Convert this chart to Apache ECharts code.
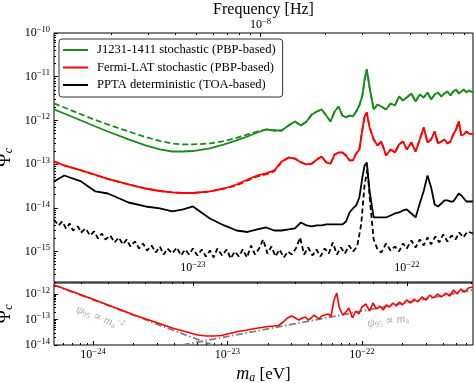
<!DOCTYPE html>
<html><head><meta charset="utf-8">
<script src="https://cdn.jsdelivr.net/npm/echarts@6/dist/echarts.min.js"></script>
<style>html,body{margin:0;padding:0;background:#fff}#c{width:474px;height:383px}</style>
</head><body><div id="c"></div>
<script>
// ---------- data (m_a in eV, Psi_c dimensionless) ----------
const maMain = [2.24e-24,2.5e-24,3e-24,3.5e-24,4e-24,5e-24,6e-24,7e-24,8e-24,9e-24,
 1e-23,1.2e-23,1.4e-23,1.6e-23,1.8e-23,2e-23,2.2e-23,2.4e-23,2.6e-23,2.8e-23,
 3e-23,3.2e-23,3.4e-23,3.6e-23,3.8e-23,4e-23,4.2e-23,4.4e-23,4.6e-23,4.8e-23,
 5e-23,5.2e-23,5.4e-23,5.6e-23,5.8e-23,6e-23,6.2e-23,6.35e-23,6.5e-23,6.7e-23,
 7e-23,7.3e-23,7.6e-23,8e-23,8.4e-23,8.8e-23,9.2e-23,9.6e-23,1e-22,1.05e-22,
 1.1e-22,1.15e-22,1.2e-22,1.25e-22,1.3e-22,1.35e-22,1.4e-22,1.45e-22,1.5e-22,1.55e-22,
 1.6e-22,1.65e-22,1.7e-22,1.75e-22,1.8e-22,1.85e-22,1.9e-22,1.95e-22,2.04e-22];

const j1231Solid = [1.78e-12,1.44e-12,9.95e-13,7.25e-13,5.57e-13,3.66e-13,2.67e-13,2.16e-13,1.94e-13,1.94e-13,
 1.99e-13,2.28e-13,2.81e-13,3.47e-13,4.28e-13,5.28e-13,6.19e-13,5.87e-13,5.87e-13,7.64e-13,
 9.44e-13,7.64e-13,9.44e-13,1.37e-12,1.60e-12,1.78e-12,1.29e-12,9.44e-13,1.60e-12,2.08e-12,
 1.29e-12,1.17e-12,1.29e-12,1.23e-12,1.60e-12,2.19e-12,3.71e-12,8.63e-12,1.46e-11,5.66e-12,
 1.78e-12,2.31e-12,2.08e-12,1.78e-12,2.44e-12,2.19e-12,3.52e-12,2.85e-12,3.34e-12,4.13e-12,
 2.71e-12,3.92e-12,3.34e-12,4.35e-12,3.01e-12,3.92e-12,4.35e-12,3.52e-12,4.13e-12,4.58e-12,
 3.71e-12,4.58e-12,5.09e-12,4.13e-12,4.58e-12,5.09e-12,4.35e-12,4.83e-12,4.35e-12];

const j1231Dashed = [2.44e-12,1.97e-12,1.37e-12,1.02e-12,8.06e-13,5.57e-13,4.17e-13,3.38e-13,2.96e-13,2.81e-13,
 2.81e-13,2.96e-13,3.38e-13,3.96e-13,4.76e-13,5.57e-13,6.19e-13,5.87e-13,5.87e-13,7.64e-13,
 9.44e-13,7.64e-13,9.44e-13,1.37e-12,1.60e-12,1.78e-12,1.29e-12,9.44e-13,1.60e-12,2.08e-12,
 1.29e-12,1.17e-12,1.29e-12,1.23e-12,1.60e-12,2.19e-12,3.71e-12,8.63e-12,1.46e-11,5.66e-12,
 1.78e-12,2.31e-12,2.08e-12,1.78e-12,2.44e-12,2.19e-12,3.52e-12,2.85e-12,3.34e-12,4.13e-12,
 2.71e-12,3.92e-12,3.34e-12,4.35e-12,3.01e-12,3.92e-12,4.35e-12,3.52e-12,4.13e-12,4.58e-12,
 3.71e-12,4.58e-12,5.09e-12,4.13e-12,4.58e-12,5.09e-12,4.35e-12,4.83e-12,4.35e-12];

const fermiSolid = [1.15e-13,9.29e-14,7.14e-14,5.63e-14,4.56e-14,3.41e-14,2.76e-14,2.42e-14,2.24e-14,2.18e-14,
 2.18e-14,2.36e-14,2.76e-14,3.41e-14,4.44e-14,5.48e-14,6.10e-14,7.14e-14,1.15e-13,1.42e-13,
 1.34e-13,1.09e-13,9.79e-14,1.03e-13,1.27e-13,1.49e-13,1.09e-13,1.03e-13,1.66e-13,1.84e-13,
 1.84e-13,1.57e-13,1.21e-13,1.21e-13,1.75e-13,2.16e-13,6.19e-13,1.23e-12,1.52e-12,6.88e-13,
 3.66e-13,2.67e-13,3.29e-13,1.57e-13,2.16e-13,1.84e-13,2.81e-13,3.29e-13,2.16e-13,3.12e-13,
 1.94e-13,3.66e-13,6.88e-13,3.12e-13,3.66e-13,5.57e-13,2.96e-13,3.29e-13,3.66e-13,2.96e-13,
 3.29e-13,4.76e-13,6.19e-13,9.44e-13,4.51e-13,4.76e-13,5.57e-13,5.01e-13,4.76e-13];

const fermiDashed = [1.15e-13,9.29e-14,7.14e-14,5.63e-14,4.56e-14,3.41e-14,2.76e-14,2.42e-14,2.24e-14,2.18e-14,
 2.18e-14,2.36e-14,2.76e-14,3.24e-14,4.21e-14,5.20e-14,5.78e-14,6.77e-14,1.12e-13,1.40e-13,
 1.34e-13,1.09e-13,9.79e-14,1.03e-13,1.27e-13,1.49e-13,1.09e-13,1.03e-13,1.66e-13,1.84e-13,
 1.84e-13,1.57e-13,1.21e-13,1.21e-13,1.75e-13,2.16e-13,6.19e-13,1.23e-12,1.52e-12,6.88e-13,
 3.66e-13,2.67e-13,3.29e-13,1.57e-13,2.16e-13,1.84e-13,2.81e-13,3.29e-13,2.16e-13,3.12e-13,
 1.94e-13,3.66e-13,6.88e-13,3.12e-13,3.66e-13,5.57e-13,2.96e-13,3.29e-13,3.66e-13,2.96e-13,
 3.29e-13,4.76e-13,6.19e-13,9.44e-13,4.51e-13,4.76e-13,5.57e-13,5.01e-13,4.76e-13];

const pptaSolid = [4.00e-14,5.48e-14,4.00e-14,2.36e-14,2.12e-14,1.32e-14,1.07e-14,9.64e-15,8.23e-15,9.15e-15,
 1.07e-14,5.69e-15,3.94e-15,3.02e-15,2.79e-15,3.19e-15,3.54e-15,3.02e-15,3.02e-15,3.19e-15,
 3.36e-15,4.61e-15,3.94e-15,3.73e-15,3.94e-15,3.94e-15,4.15e-15,4.15e-15,4.15e-15,4.15e-15,
 4.15e-15,4.86e-15,7.81e-15,9.64e-15,1.13e-14,1.72e-14,4.94e-14,9.29e-14,1.09e-13,2.36e-14,
 6.00e-15,6.00e-15,6.00e-15,6.00e-15,6.67e-15,7.41e-15,7.81e-15,8.68e-15,9.15e-15,7.41e-15,
 6.00e-15,1.25e-14,2.42e-14,5.48e-14,2.91e-14,1.19e-14,1.07e-14,1.25e-14,1.47e-14,1.47e-14,
 1.39e-14,1.39e-14,1.72e-14,2.12e-14,1.91e-14,1.63e-14,1.39e-14,1.39e-14,1.39e-14];

const maDense = [2.24e-24,2.35e-24,2.45e-24,2.55e-24,2.65e-24,2.75e-24,2.9e-24,3.0e-24,3.15e-24,3.3e-24,
 3.45e-24,3.6e-24,3.75e-24,3.9e-24,4.1e-24,4.3e-24,4.5e-24,4.7e-24,4.9e-24,5.1e-24,
 5.35e-24,5.6e-24,5.85e-24,6.1e-24,6.4e-24,6.7e-24,7.0e-24,7.3e-24,7.6e-24,8.0e-24,
 8.4e-24,8.8e-24,9.2e-24,9.6e-24,1e-23,
 1.05e-23,1.1e-23,1.15e-23,1.2e-23,1.25e-23,1.3e-23,1.37e-23,1.44e-23,1.5e-23,1.57e-23,
 1.64e-23,1.71e-23,1.79e-23,1.87e-23,1.95e-23,2.04e-23,2.13e-23,2.23e-23,2.33e-23,2.43e-23,
 2.54e-23,2.66e-23,2.78e-23,2.9e-23,3.03e-23,3.17e-23,3.31e-23,3.46e-23,3.62e-23,3.78e-23,
 3.95e-23,4.13e-23,4.32e-23,4.51e-23,4.71e-23,4.92e-23,5.14e-23,5.37e-23,5.61e-23,5.86e-23,
 6.12e-23,6.35e-23,6.55e-23,6.75e-23,7.0e-23,7.3e-23,7.6e-23,8.0e-23,8.4e-23,8.8e-23,
 9.2e-23,9.6e-23,
 1.0e-22,1.05e-22,1.1e-22,1.15e-22,1.2e-22,1.25e-22,1.3e-22,1.36e-22,1.42e-22,1.48e-22,
 1.55e-22,1.62e-22,1.69e-22,1.76e-22,1.84e-22,1.92e-22,2.04e-22];

const pptaDashed = [5.40e-15,3.94e-15,4.86e-15,3.36e-15,4.37e-15,3.02e-15,3.73e-15,2.72e-15,3.36e-15,2.32e-15,
 2.87e-15,1.98e-15,2.58e-15,1.88e-15,2.32e-15,1.61e-15,2.09e-15,1.45e-15,1.88e-15,1.30e-15,
 1.69e-15,1.17e-15,1.52e-15,1.05e-15,1.37e-15,9.49e-16,1.30e-15,8.54e-16,1.17e-15,9.00e-16,
 1.23e-15,8.10e-16,1.11e-15,8.54e-16,1.17e-15,
 8.10e-16,1.11e-15,7.69e-16,1.05e-15,7.29e-16,1.17e-15,8.10e-16,1.11e-15,6.92e-16,1.00e-15,
 7.69e-16,1.11e-15,7.29e-16,1.37e-15,8.54e-16,1.17e-15,1.88e-15,9.00e-16,1.30e-15,7.69e-16,
 1.11e-15,7.29e-16,1.00e-15,8.54e-16,1.17e-15,2.09e-15,8.54e-16,1.23e-15,8.10e-16,1.11e-15,
 7.69e-16,1.17e-15,9.00e-16,1.61e-15,8.54e-16,1.23e-15,9.00e-16,1.37e-15,1.00e-15,1.30e-15,
 4.15e-15,3.41e-14,7.52e-14,1.19e-14,1.88e-15,1.11e-15,9.49e-16,1.52e-15,1.05e-15,1.30e-15,
 1.00e-15,1.52e-15,
 1.17e-15,1.79e-15,1.23e-15,1.88e-15,1.37e-15,2.09e-15,1.45e-15,2.20e-15,1.61e-15,2.45e-15,
 1.69e-15,2.32e-15,1.88e-15,2.72e-15,2.09e-15,2.87e-15,2.58e-15];

// lower panel
const maLower = [5.13e-25,7e-25,1e-24,1.5e-24,2e-24,3e-24,4e-24,5e-24,6e-24,7e-24,
 8e-24,9e-24,1e-23,1.2e-23,1.4e-23,1.6e-23,1.8e-23,2e-23,2.2e-23,2.4e-23,
 2.6e-23,2.8e-23,3e-23,3.2e-23,3.4e-23,3.6e-23,3.8e-23,4e-23,4.2e-23,4.4e-23,
 4.6e-23,4.8e-23,5e-23,5.3e-23,5.6e-23,5.9e-23,6.2e-23,6.5e-23,6.8e-23,7.2e-23,
 7.6e-23,8e-23,8.5e-23,9e-23,9.5e-23,1e-22,1.07e-22,1.14e-22,1.21e-22,1.28e-22,
 1.36e-22,1.44e-22,1.52e-22,1.6e-22,1.7e-22,1.8e-22,1.9e-22,2e-22,2.15e-22,2.3e-22,
 2.45e-22,2.6e-22,2.8e-22,3e-22,3.2e-22,3.4e-22,3.65e-22,3.9e-22,4.2e-22,4.5e-22,
 4.8e-22,5.1e-22,5.45e-22,5.8e-22,6.2e-22,6.7e-22];
const fermiLower = [2.25e-12,1.25e-12,6.2e-13,2.75e-13,1.55e-13,7.5e-14,4.44e-14,3.23e-14,2.47e-14,2.25e-14,
 2.25e-14,2.36e-14,2.70e-14,3.38e-14,3.87e-14,4.44e-14,4.86e-14,5.31e-14,5.56e-14,5.82e-14,
 7.98e-14,1.15e-13,1.37e-13,1.15e-13,9.56e-14,1.15e-13,1.25e-13,9.56e-14,1.15e-13,1.50e-13,
 1.25e-13,1.05e-13,1.37e-13,1.50e-13,1.64e-13,1.37e-13,5.82e-13,1.09e-12,2.82e-13,1.50e-13,
 1.97e-13,2.82e-13,1.15e-13,2.15e-13,1.64e-13,3.09e-13,4.05e-13,2.15e-13,4.44e-13,2.58e-13,
 3.38e-13,2.36e-13,3.70e-13,3.09e-13,4.44e-13,3.38e-13,4.86e-13,3.70e-13,5.82e-13,4.44e-13,
 6.37e-13,4.86e-13,7.63e-13,5.82e-13,9.14e-13,6.97e-13,1.0e-12,7.63e-13,1.09e-12,8.35e-13,
 1.44e-12,1.0e-12,1.57e-12,1.20e-12,1.72e-12,1.88e-12];
const fitLowMa = [5.13e-25, 7.7e-24];   const fitLowPsi = [2.25e-12, 1e-14];   // psi95 ~ ma^-2
const fitHighMa = [4.66e-24, 6.7e-22];  const fitHighPsi = [1e-14, 1.44e-12];  // psi95 ~ ma

// axis ranges and tick labels
const mainMaRange = [2.24e-24, 2.04e-22];
const freqRange = [1.083e-9, 9.87e-8];
const mainPsiRange = [2.0e-16, 1e-10];
const lowerMaRange = [5.13e-25, 6.7e-22];
const lowerPsiRange = [1e-14, 2.7e-12];
const mainMaTicks = [1e-23, 1e-22];
const freqTicks = [1e-8];
const mainPsiTicks = [1e-15, 1e-14, 1e-13, 1e-12, 1e-11, 1e-10];
const lowerMaTicks = [1e-24, 1e-23, 1e-22];
const lowerPsiTicks = [1e-14, 1e-13, 1e-12];
const legendNames = ['J1231-1411 stochastic (PBP-based)', 'Fermi-LAT stochastic (PBP-based)', 'PPTA deterministic (TOA-based)'];

// ---------- helpers ----------
const FONT = '"Liberation Serif", "DejaVu Serif", serif';
const L = Math.log10;
const pairs = (xs, ys) => xs.map((x, i) => [L(x), L(ys[i])]);
function minorTicks(r) {
  const out = [];
  for (let e = Math.floor(L(r[0])); e <= Math.ceil(L(r[1])); e++)
    for (let k = 2; k <= 9; k++) { const v = k * Math.pow(10, e); if (v >= r[0] && v <= r[1]) out.push(L(v)); }
  return out;
}
const labelRich = {
  b: { fontFamily: FONT, fontSize: 12, color: '#000' },
  s: { fontFamily: FONT, fontSize: 8.5, color: '#000', padding: [0, 0, 7, 0] }
};
const expFmt = v => { const e = Math.round(v); return '{b|10}{s|' + (e < 0 ? '\u2212' : '') + Math.abs(e) + '}'; };

function majorAxis(grid, range, ticks, pos, o) {
  return Object.assign({
    type: 'value', gridIndex: grid, position: pos, min: L(range[0]), max: L(range[1]),
    axisLine: { show: false }, splitLine: { show: false }, nameMoveOverlap: false,
    axisTick: { show: true, inside: o.tin, length: 4, lineStyle: { color: '#000', width: 1 }, customValues: ticks.map(L) },
    axisLabel: { show: true, inside: !!o.lin, margin: o.margin, customValues: ticks.map(L), formatter: expFmt, rich: labelRich,
                 showMinLabel: true, showMaxLabel: true },
    silent: true
  }, o.extra || {});
}
function minorAxis(grid, range, pos, tin) {
  return {
    type: 'value', gridIndex: grid, position: pos, min: L(range[0]), max: L(range[1]),
    axisLine: { show: false }, splitLine: { show: false }, axisLabel: { show: false },
    axisTick: { show: true, inside: tin, length: 2, lineStyle: { color: '#000', width: 1 }, customValues: minorTicks(range) },
    silent: true
  };
}

const line = (name, data, color, xi, yi, dashed, width, z) => ({
  type: 'line', name, data, xAxisIndex: xi, yAxisIndex: yi, symbol: 'none', showSymbol: false, silent: true,
  lineStyle: { color, width: width || 1.8, type: dashed || 'solid' }, itemStyle: { color }, z: z || 2, animation: false
});

const GREEN = '#1b8a1b', RED = '#ff0000', BLACK = '#000000', GRAY = '#7f7f7f';
const psiName = {
  name: '{p|\u03a8}{c|c}', nameLocation: 'middle', nameGap: 39,
  nameTextStyle: { fontFamily: FONT, fontSize: 18, color: '#000', rich: {
    p: { fontFamily: FONT, fontSize: 19, color: '#000' },
    c: { fontFamily: FONT, fontSize: 12, fontStyle: 'italic', color: '#000', padding: [8, 0, 0, 0] } } }
};

const option = {
  animation: false,
  backgroundColor: '#fff',
  grid: [
    { left: 54, top: 33, width: 419, height: 249, show: true, borderColor: '#000', borderWidth: 1, containLabel: false, outerBoundsMode: 'none' },
    { left: 54, top: 283, width: 419, height: 62, show: true, borderColor: '#000', borderWidth: 1, containLabel: false, outerBoundsMode: 'none' }
  ],
  xAxis: [
    majorAxis(0, mainMaRange, mainMaTicks, 'bottom', { tin: false, lin: true, margin: 6 }),
    minorAxis(0, mainMaRange, 'bottom', false),
    majorAxis(0, freqRange, freqTicks, 'top', { tin: true, margin: 0, extra: {
      name: 'Frequency [Hz]', nameLocation: 'middle', nameGap: 15,
      nameTextStyle: { fontFamily: FONT, fontSize: 16, color: '#000' } } }),
    minorAxis(0, freqRange, 'top', true),
    majorAxis(1, lowerMaRange, lowerMaTicks, 'bottom', { tin: true, margin: 2, extra: {
      name: '{m|m}{a|a}{t| [eV]}', nameLocation: 'middle', nameGap: 20,
      nameTextStyle: { fontFamily: FONT, fontSize: 17, color: '#000', rich: {
        m: { fontFamily: FONT, fontSize: 18, fontStyle: 'italic', color: '#000' },
        a: { fontFamily: FONT, fontSize: 12, fontStyle: 'italic', color: '#000', padding: [7, 0, 0, 0] },
        t: { fontFamily: FONT, fontSize: 17, color: '#000' } } } } }),
    minorAxis(1, lowerMaRange, 'bottom', true)
  ],
  yAxis: [
    majorAxis(0, mainPsiRange, mainPsiTicks, 'left', { tin: true, margin: 4, extra: psiName }),
    minorAxis(0, mainPsiRange, 'left', true),
    majorAxis(1, lowerPsiRange, lowerPsiTicks, 'left', { tin: true, margin: 4, extra: psiName }),
    minorAxis(1, lowerPsiRange, 'left', true)
  ],
  legend: {
    data: legendNames, orient: 'vertical', left: 59, top: 39, padding: [4, 7, 5, 4], itemGap: 3.5,
    itemWidth: 25, itemHeight: 2, icon: 'rect', selectedMode: false,
    backgroundColor: '#fff', borderColor: '#333', borderWidth: 1, borderRadius: 3,
    textStyle: { fontFamily: FONT, fontSize: 12.6, color: '#000', lineHeight: 14, padding: [0, 0, 0, 4] }
  },
  series: [
    line(legendNames[0], pairs(maMain, j1231Solid), GREEN, 0, 0),
    line('J1231-1411 (dashed)', pairs(maMain, j1231Dashed), GREEN, 0, 0, [6, 3]),
    line(legendNames[1], pairs(maMain, fermiSolid), RED, 0, 0),
    line('Fermi-LAT (dashed)', pairs(maMain, fermiDashed), RED, 0, 0, [6, 3]),
    line(legendNames[2], pairs(maMain, pptaSolid), BLACK, 0, 0),
    line('PPTA (dashed)', pairs(maDense, pptaDashed), BLACK, 0, 0, [5, 3]),
    line('fit low', pairs(fitLowMa, fitLowPsi), GRAY, 4, 2, [7, 2.5, 1.5, 2.5], 1.8, 1),
    line('fit high', pairs(fitHighMa, fitHighPsi), GRAY, 4, 2, [7, 2.5, 1.5, 2.5], 1.8, 1),
    line('Fermi-LAT lower', pairs(maLower, fermiLower), RED, 4, 2, null, 1.6, 3)
  ],
  graphic: [
    { type: 'text', x: 100, y: 318, rotation: -0.37, silent: true, style: {
      text: '{p|\u03c8}{s|95}{t| \u221d }{p|m}{s|a}{u|\u22122}', align: 'center', verticalAlign: 'middle', fill: '#a9a9a9',
      rich: { p: { fontFamily: FONT, fontSize: 12, fontStyle: 'italic', fill: '#a9a9a9' },
              t: { fontFamily: FONT, fontSize: 12, fill: '#a9a9a9' },
              s: { fontFamily: FONT, fontSize: 8, fill: '#a9a9a9', padding: [5, 0, 0, 0] },
              u: { fontFamily: FONT, fontSize: 8, fill: '#a9a9a9', padding: [0, 0, 7, 0] } } } },
    { type: 'text', x: 388, y: 321, rotation: 0.12, silent: true, style: {
      text: '{p|\u03c8}{s|95}{t| \u221d }{p|m}{s|a}', align: 'center', verticalAlign: 'middle', fill: '#a9a9a9',
      rich: { p: { fontFamily: FONT, fontSize: 12, fontStyle: 'italic', fill: '#a9a9a9' },
              t: { fontFamily: FONT, fontSize: 12, fill: '#a9a9a9' },
              s: { fontFamily: FONT, fontSize: 8, fill: '#a9a9a9', padding: [5, 0, 0, 0] } } } }
  ]
};

const chart = echarts.init(document.getElementById('c'), null, { renderer: 'canvas' });
chart.setOption(option);
</script>
</body></html>
